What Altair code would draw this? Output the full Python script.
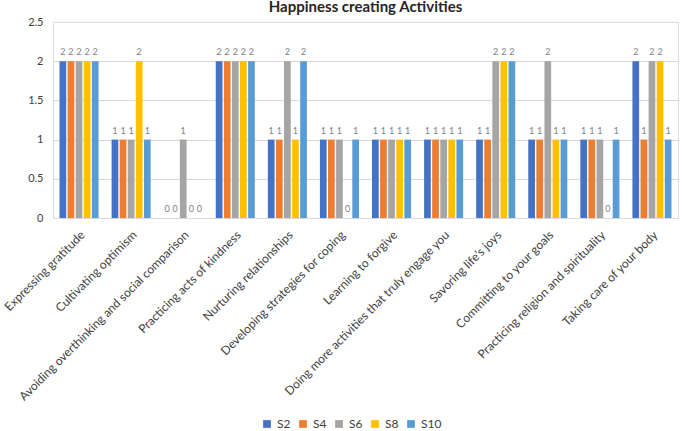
import altair as alt
import pandas as pd

# Activities on the x axis, in display order
activities = [
    "Expressing gratitude",
    "Cultivating optimism",
    "Avoiding overthinking and social comparison",
    "Practicing acts of kindness",
    "Nurturing relationships",
    "Developing strategies for coping",
    "Learning to forgive",
    "Doing more activities that truly engage you",
    "Savoring life\u2019s joys",
    "Committing to your goals",
    "Practicing religion and spirituality",
    "Taking care of your body",
]

series = ["S2", "S4", "S6", "S8", "S10"]

s2 = [2, 1, 0, 2, 1, 1, 1, 1, 1, 1, 1, 2]
s4 = [2, 1, 0, 2, 1, 1, 1, 1, 1, 1, 1, 1]
s6 = [2, 1, 1, 2, 2, 1, 1, 1, 2, 2, 1, 2]
s8 = [2, 2, 0, 2, 1, 0, 1, 1, 2, 1, 0, 2]
s10 = [2, 1, 0, 2, 2, 1, 1, 1, 2, 1, 1, 1]

y_ticks = [0, 0.5, 1, 1.5, 2, 2.5]

colors = ["#4472C4", "#ED7D31", "#A5A5A5", "#FFC000", "#5B9BD5"]

rows = []
for name, vals in zip(series, [s2, s4, s6, s8, s10]):
    for act, v in zip(activities, vals):
        rows.append({"activity": act, "series": name, "value": v})
df = pd.DataFrame(rows)

FONT = "Lato"

x_enc = alt.X(
    "activity:N",
    sort=activities,
    title=None,
    scale=alt.Scale(paddingInner=0.25, paddingOuter=0.125),
    axis=alt.Axis(
        labelAngle=-45,
        labelFontSize=12,
        labelColor="#404040",
        labelFont=FONT,
        labelLimit=400,
        ticks=False,
        domainColor="#d9d9d9",
        labelPadding=11,
    ),
)
xoff = alt.XOffset("series:N", sort=series, scale=alt.Scale(paddingInner=0.17))
y_enc = alt.Y(
    "value:Q",
    title=None,
    scale=alt.Scale(domain=[0, 2.5]),
    axis=alt.Axis(
        values=y_ticks,
        format="~g",
        labelOverlap=False,
        labelFontSize=11,
        labelColor="#404040",
        labelFont=FONT,
        gridColor="#d9d9d9",
        domain=False,
        ticks=False,
        labelPadding=10,
    ),
)

base = alt.Chart(df).encode(x=x_enc, xOffset=xoff, y=y_enc)

bars = base.mark_bar().encode(
    color=alt.Color(
        "series:N",
        sort=series,
        scale=alt.Scale(domain=series, range=colors),
        legend=alt.Legend(
            title=None,
            orient="none",
            direction="horizontal",
            legendX=208,
            legendY=396,
            symbolType="square",
            symbolSize=60,
            symbolStrokeWidth=0,
            labelFontSize=12,
            labelFont=FONT,
            labelColor="#404040",
            columnPadding=6,
        ),
    ),
)

labels = base.mark_text(
    dy=-9, fontSize=9, color="#7f7f7f", font=FONT
).encode(text=alt.Text("value:Q"))

chart = (
    alt.layer(bars, labels)
    .properties(
        width=625,
        height=196,
        title=alt.TitleParams(
            "Happiness creating Activities",
            fontSize=15,
            font=FONT,
            fontWeight="bold",
            color="#262626",
            anchor="middle",
            offset=1,
        ),
        autosize=alt.AutoSizeParams(type="none"),
        padding={"left": 53, "top": 22, "right": 7, "bottom": 213},
    )
    .configure_view(stroke=None)
    .configure(background="white")
)

chart.save("out.html", embed_options={"renderer": "svg", "actions": False})
